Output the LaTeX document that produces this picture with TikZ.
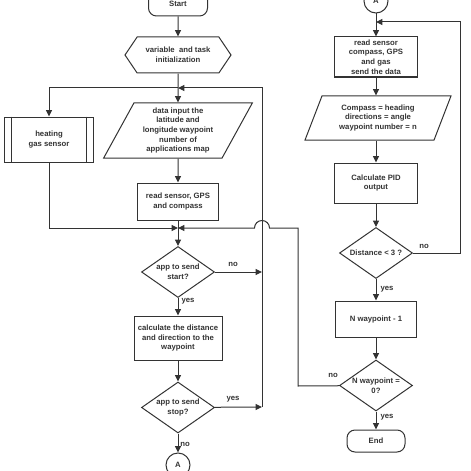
\documentclass[tikz,border=0pt]{standalone}
\usepackage{fontspec}
\setmainfont{Liberation Sans}
\usetikzlibrary{shapes.geometric,shapes.symbols,arrows.meta}
\begin{document}
\begin{tikzpicture}[x=0.5mm, y=-0.5mm, line width=0.5mm, color=black!80,
  every node/.style={font=\fontsize{11}{13.6}\selectfont\bfseries, align=center},
  box/.style={draw, rectangle, inner sep=0pt},
  term/.style={draw, rectangle, rounded corners=4mm, inner sep=0pt},
  io/.style={draw, trapezium, trapezium stretches=true, inner sep=0pt},
  dec/.style={draw, diamond, inner sep=0pt, minimum width=36.5mm, minimum height=25.5mm},
  conn/.style={draw, circle, inner sep=0pt, minimum size=12mm},
  arr/.style={-{Triangle[length=3.2mm, width=3mm]}}]
\useasboundingbox (0,0) rectangle (471,471);
\node[term, minimum width=29.5mm, minimum height=12mm] (start) at (178,4) {Start};
\node[draw, signal, signal to=west and east, signal pointer angle=112, inner sep=0pt,
  minimum width=53mm, minimum height=18mm] (init) at (178,55) {variable\ \ and task\\initialization};
\node[io, trapezium left angle=62, trapezium right angle=118, minimum width=74.5mm,
  minimum height=27.5mm] (data) at (178,130.5) {data input the\\latitude and\\longitude waypoint\\number of\\applications map};
\node[box, minimum width=44mm, minimum height=22.5mm] (heat) at (49,139.5) {heating\\gas sensor};
\draw ([xshift=3.5mm]heat.north west) -- ([xshift=3.5mm]heat.south west);
\draw ([xshift=-3.5mm]heat.north east) -- ([xshift=-3.5mm]heat.south east);
\node[box, minimum width=40.5mm, minimum height=18.5mm] (readL) at (178,201.5) {read sensor, GPS\\and compass};
\node[dec, label={[name=tstart]center:app to send\\start?}] (qstart) at (178,272) {};
\node[box, minimum width=44mm, minimum height=22mm] (calc) at (178,338) {calculate the distance\\and direction to the\\waypoint};
\node[dec, label={[name=tstop]center:app to send\\stop?}] (qstop) at (178,407.5) {};
\node[conn] (aL) at (178,465) {A};
\node[conn] (aR) at (376,1) {A};
\node[box, minimum width=41.5mm, minimum height=20mm] (readR) at (376,57) {read sensor\\compass, GPS\\and gas\\send the data};
\node[io, trapezium left angle=66, trapezium right angle=114, minimum width=73mm,
  minimum height=22mm] (io2) at (378,118) {Compass = heading\\directions = angle\\waypoint number = n};
\node[box, minimum width=41.5mm, minimum height=20mm] (pid) at (376,183) {Calculate PID\\output};
\node[dec, label={[name=tdist]center:Distance < 3 ?}] (qdist) at (376,253) {};
\node[box, minimum width=40.5mm, minimum height=18mm] (nm1) at (376,319) {N waypoint - 1};
\node[dec, label={[name=tn0]center:N waypoint =\\0?}] (qn0) at (376,385.5) {};
\node[term, minimum width=29mm, minimum height=11mm] (end) at (376,441) {End};
\node (lno1) at (233,264) {no};
\node (lyes1) at (188,301) {yes};
\node (lyes2) at (233,399) {yes};
\node (lno2) at (185,444) {no};
\node (lno3) at (424,246) {no};
\node (lyes3) at (387,289) {yes};
\node (lno4) at (333,375) {no};
\node (lyes4) at (387,417) {yes};
\coordinate (j1) at (178,88);
\coordinate (j2) at (178,228);
\coordinate (j3) at (376,22);
\coordinate (c1) at (262,272);
\coordinate (c2) at (262,407);
\coordinate (c3) at (460,253);
\coordinate (c4) at (298,386);
\coordinate (hop) at (262,228);
\draw[arr] (start) -- (init);
\draw[arr] (init) -- (data);
\draw[arr] (j1) -| (heat);
\draw[arr] (c2) |- (j1);
\draw[arr] (data) -- (readL);
\draw[arr] (heat) |- (j2);
\draw[arr] (readL) -- (qstart);
\draw[arr] (qn0) -- (c4) |- ([xshift=3.75mm]hop) arc (0:180:3.75mm) -- (j2);
\draw[arr] (qstart) -- (c1);
\draw[arr] (qstart) -- (calc);
\draw[arr] (calc) -- (qstop);
\draw[arr] (qstop) -- (c2);
\draw[arr] (qstop) -- (aL);
\draw[arr] (aR) -- (readR);
\draw[arr] (qdist) -- (c3) |- (j3);
\draw[arr] (readR) -- (readR |- io2.north);
\draw[arr] (io2.south -| pid) -- (pid);
\draw[arr] (pid) -- (qdist);
\draw[arr] (qdist) -- (nm1);
\draw[arr] (nm1) -- (qn0);
\draw[arr] (qn0) -- (end);
\end{tikzpicture}
\end{document}
